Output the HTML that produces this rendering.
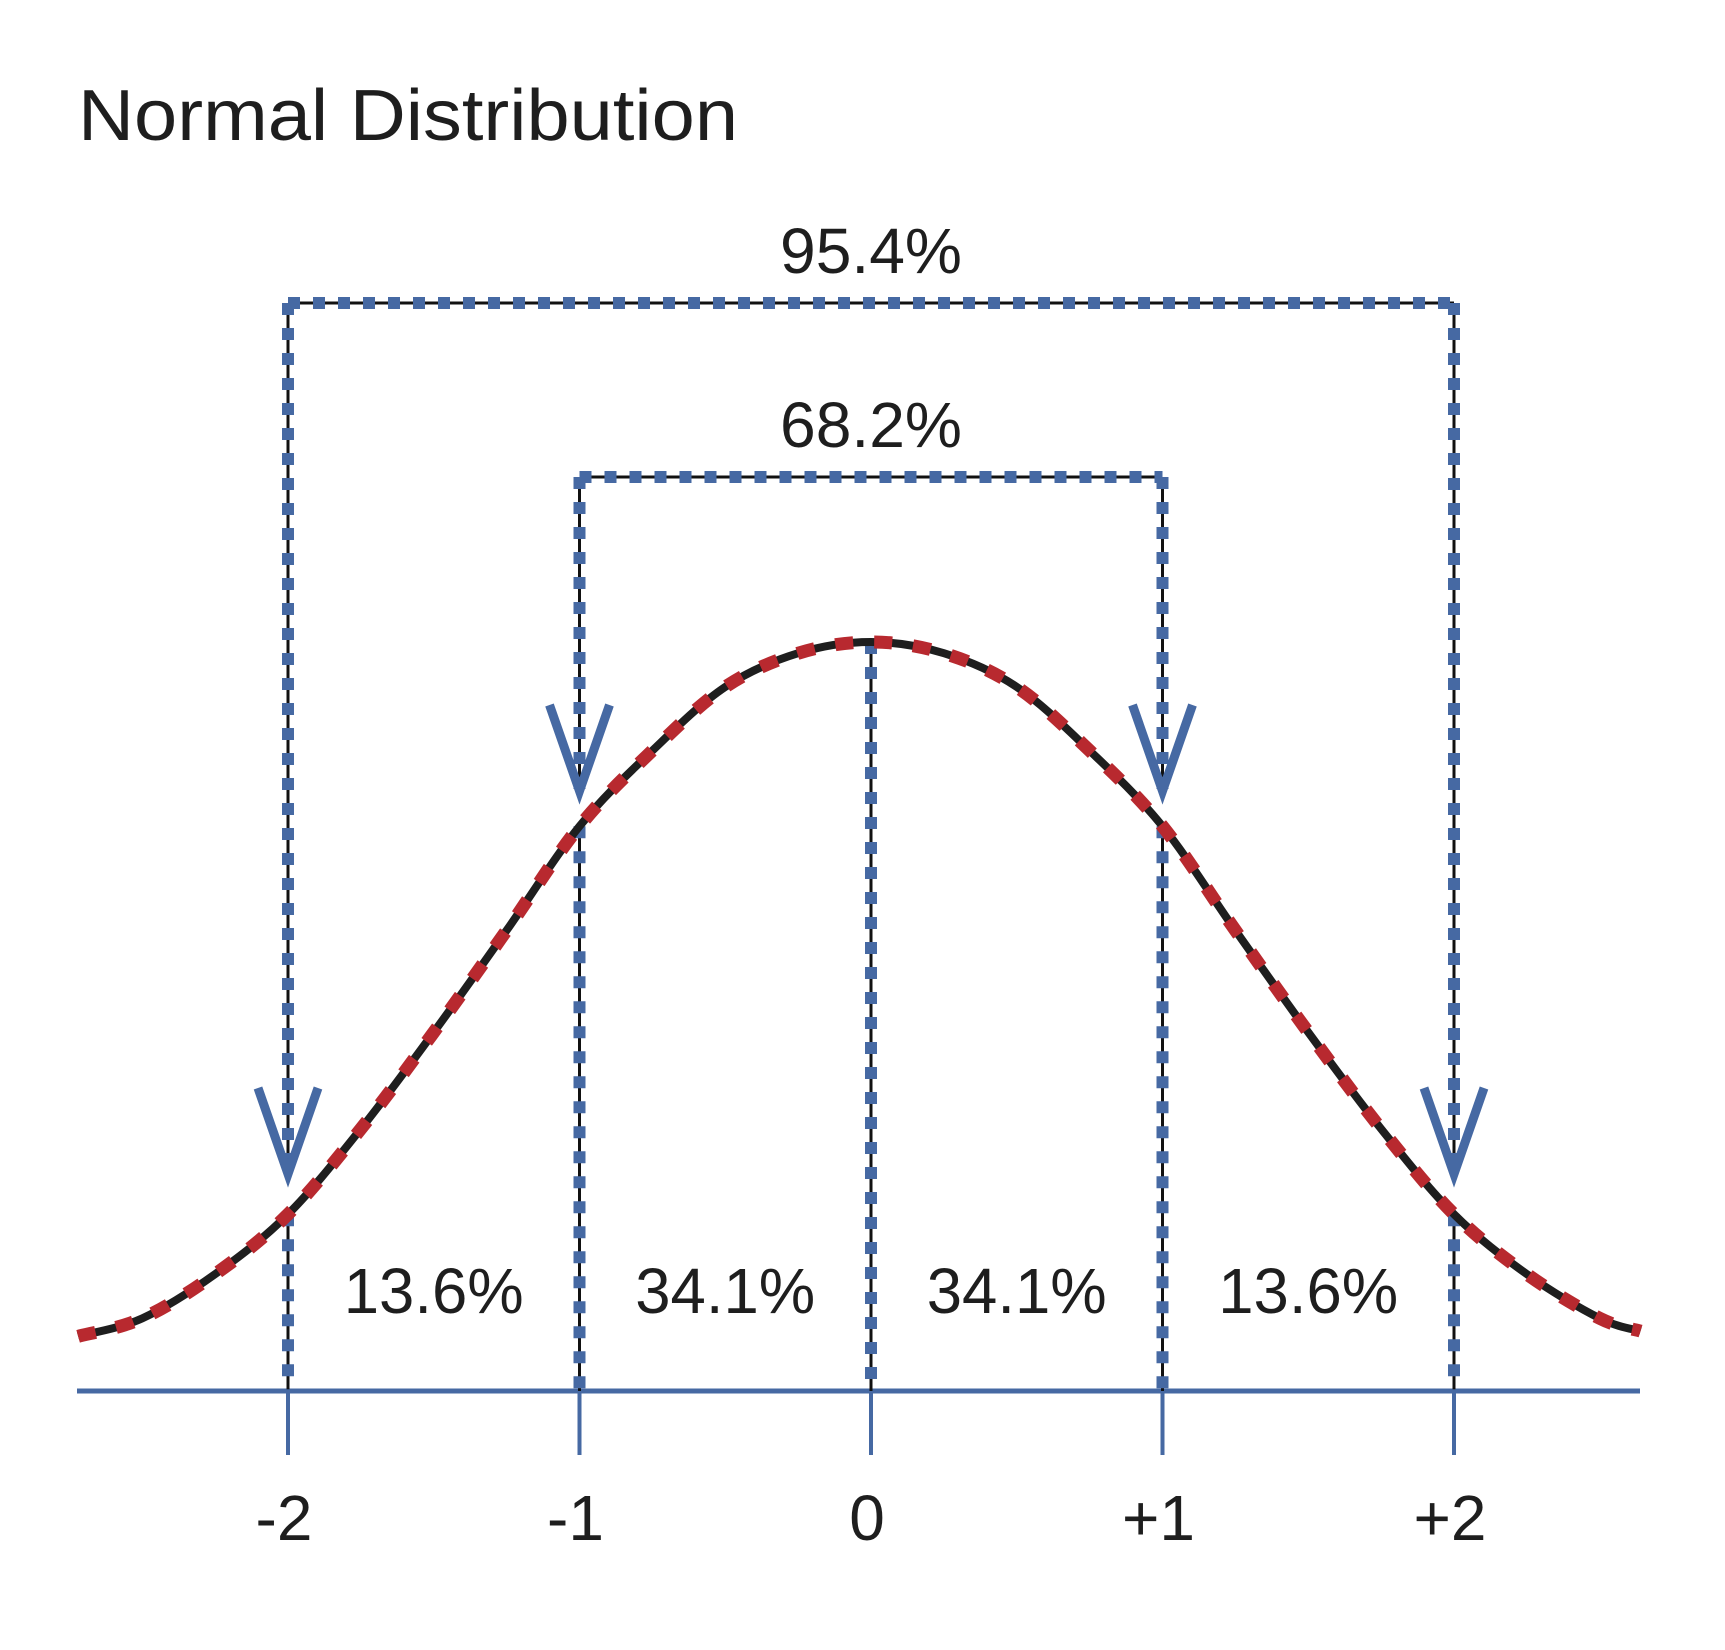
<!DOCTYPE html>
<html><head><meta charset="utf-8"><style>
html,body{margin:0;padding:0;background:#fff;}
svg{display:block;}
text{font-family:"Liberation Sans",sans-serif;fill:#1e1e1e;}
</style></head><body>
<svg id="chart" width="1725" height="1650" viewBox="0 0 1725 1650">
<text x="78" y="140" font-size="72" textLength="660" lengthAdjust="spacingAndGlyphs">Normal Distribution</text>
<g id="layer"></g>
</svg>
<script>
const tickValues = [-2, -1, 0, 1, 2];
const tickLabels = ["-2", "-1", "0", "+1", "+2"];
const curveX = [-2.72, -2.5, -2.25, -2, -1.75, -1.5, -1.25, -1, -0.75, -0.5, -0.25, 0, 0.25, 0.5, 0.75, 1, 1.25, 1.5, 1.75, 2, 2.25, 2.5, 2.64];
const curveY = [0.073, 0.097, 0.156, 0.236, 0.350, 0.479, 0.615, 0.754, 0.855, 0.940, 0.985, 1, 0.985, 0.940, 0.855, 0.754, 0.615, 0.479, 0.350, 0.236, 0.156, 0.097, 0.08];
const segmentLabels = ["13.6%", "34.1%", "34.1%", "13.6%"];
const segmentMids = [-1.5, -0.5, 0.5, 1.5];
const bracketRanges = [[-2, 2], [-1, 1]];
const bracketLabels = ["95.4%", "68.2%"];

const NS = "http://www.w3.org/2000/svg";
const layer = document.getElementById('layer');
const xS = v => 871 + v * 291.5;
const yS = v => 1391 - v * 749;
function mk(tag, attrs, parent) {
  const e = document.createElementNS(NS, tag);
  for (const k in attrs) e.setAttribute(k, attrs[k]);
  (parent || layer).appendChild(e);
  return e;
}
function curveAt(v) {
  for (let i = 0; i < curveX.length - 1; i++) {
    if (v >= curveX[i] && v <= curveX[i + 1]) {
      const t = (v - curveX[i]) / (curveX[i + 1] - curveX[i]);
      return curveY[i] + t * (curveY[i + 1] - curveY[i]);
    }
  }
  return 0;
}
function dotted(x1, y1, x2, y2, name) {
  const g = mk('g', {});
  
  
  mk('line', {x1, y1, x2, y2, stroke: '#111', 'stroke-width': 3}, g);
  mk('line', {x1, y1, x2, y2, stroke: '#4669a3', 'stroke-width': 12, 'stroke-dasharray': '12 13'}, g);
  return g;
}
const pts = curveX.map((v, i) => [xS(v), yS(curveY[i])]);
let d = `M${pts[0][0]},${pts[0][1]}`;
for (let i = 0; i < pts.length - 1; i++) {
  const p0 = pts[Math.max(0, i - 1)], p1 = pts[i], p2 = pts[i + 1], p3 = pts[Math.min(pts.length - 1, i + 2)];
  const c1 = [p1[0] + (p2[0] - p0[0]) / 6, p1[1] + (p2[1] - p0[1]) / 6];
  const c2 = [p2[0] - (p3[0] - p1[0]) / 6, p2[1] - (p3[1] - p1[1]) / 6];
  d += ` C${c1[0]},${c1[1]} ${c2[0]},${c2[1]} ${p2[0]},${p2[1]}`;
}
const axis = mk('line', {x1: 77, y1: 1391, x2: 1640, y2: 1391, stroke: '#4669a3', 'stroke-width': 5});


tickValues.forEach((v, i) => {
  dotted(xS(v), yS(curveAt(v)), xS(v), 1391, 'divider-' + tickLabels[i]);
  const t = mk('line', {x1: xS(v), y1: 1391, x2: xS(v), y2: 1455, stroke: '#4669a3', 'stroke-width': 4});
  
  
  const tl = mk('text', {x: xS(v) - 4, y: 1540, 'font-size': 64, 'text-anchor': 'middle'});
  tl.textContent = tickLabels[i];
  
  
});
const bracketTops = [303, 477];
const arrowTips = [1174, 791];
bracketRanges.forEach((r, i) => {
  const xa = xS(r[0]), xb = xS(r[1]), top = bracketTops[i], tip = arrowTips[i];
  dotted(xa, top, xb, top, 'bracket-top-' + bracketLabels[i]);
  dotted(xa, top, xa, tip, 'bracket-left-' + bracketLabels[i]);
  dotted(xb, top, xb, tip, 'bracket-right-' + bracketLabels[i]);
  [xa, xb].forEach(x => {
    const a = mk('polyline', {points: `${x - 30},${tip - 86} ${x},${tip} ${x + 30},${tip - 86}`, fill: 'none', stroke: '#4669a3', 'stroke-width': 9});
    
    
  });
  const bl = mk('text', {x: (xa + xb) / 2, y: top - 30, 'font-size': 64, 'text-anchor': 'middle', textLength: 182, lengthAdjust: 'spacingAndGlyphs'});
  bl.textContent = bracketLabels[i];
  
  
});
const cb = mk('path', {d, fill: 'none', stroke: '#1e1e1e', 'stroke-width': 8});


const cr = mk('path', {d, fill: 'none', stroke: '#b8292f', 'stroke-width': 13, 'stroke-dasharray': '18 21'});


segmentMids.forEach((v, i) => {
  const s = mk('text', {x: xS(v), y: 1313, 'font-size': 64, 'text-anchor': 'middle', textLength: 180, lengthAdjust: 'spacingAndGlyphs'});
  s.textContent = segmentLabels[i];
  
  
});
</script>
</body></html>
